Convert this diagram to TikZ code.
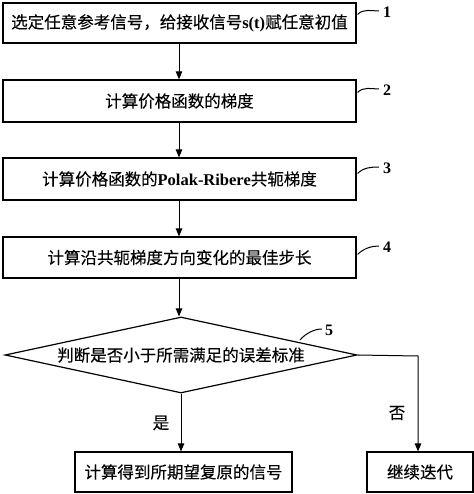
\documentclass[tikz,border=0pt]{standalone}
\usepackage{fontspec}
\setmainfont[BoldFont={Noto Sans CJK SC},BoldFeatures={FakeBold=0.2}]{Noto Sans CJK SC}
\newfontfamily\latf{Liberation Serif}
\usetikzlibrary{shapes.geometric,arrows.meta,calc}
\begin{document}
\begin{tikzpicture}[x=1bp,y=-1bp,
  txt/.style={font=\fontsize{16.5bp}{18bp}\selectfont\bfseries},
  box/.style={draw,line width=1.2bp,inner sep=0pt,txt},
  arr/.style={line width=1bp,-{Triangle[length=8bp,width=6.5bp]}},
  tag/.style={font=\latf\bfseries\fontsize{16bp}{18bp}\selectfont,inner sep=0pt},
  lead/.style={line width=1bp}]
\useasboundingbox (0,0) rectangle (474,494);
\node[box,minimum width=353bp,minimum height=40bp] (b1) at (179.5,23) {选定任意参考信号，给接收信号{\latf\bfseries s(t)}赋任意初值};
\node[box,minimum width=353bp,minimum height=42bp] (b2) at (179.5,101) {计算价格函数的梯度};
\node[box,minimum width=353bp,minimum height=42bp] (b3) at (179.5,179) {计算价格函数的{\latf\bfseries Polak-Ribere}共轭梯度};
\node[box,minimum width=353bp,minimum height=41bp] (b4) at (179.5,257.5) {计算沿共轭梯度方向变化的最佳步长};
\node[draw,line width=1.2bp,diamond,aspect=4.6,minimum width=352bp,minimum height=76bp,inner sep=0pt,txt] (d) at (181,355) {判断是否小于所需满足的误差标准};
\node[box,minimum width=217bp,minimum height=40bp] (yes) at (183.5,472) {计算得到所期望复原的信号};
\node[box,minimum width=106bp,minimum height=40bp] (no) at (420,472) {继续迭代};
\node[txt,inner sep=0pt] (ly) at (161,423) {是};
\node[txt,inner sep=0pt] (ln) at (397,413) {否};
\node[tag] (t1) at (387,12) {1};
\node[tag] (t2) at (387,90) {2};
\node[tag] (t3) at (387,168) {3};
\node[tag] (t4) at (387,247) {4};
\node[tag] (t5) at (329,330) {5};
\coordinate (nc) at (418,356);
\draw[arr] (b1.south -| 179,0) -- (b2.north -| 179,0);
\draw[arr] (b2.south -| 179,0) -- (b3.north -| 179,0);
\draw[arr] (b3.south -| 179,0) -- (b4.north -| 179,0);
\draw[arr] (b4.south -| 179,0) -- (d.north -| 179,0);
\draw[arr] (d.south) -- (d.south |- yes.north);
\draw[arr] (d.east) -- (nc) -- (nc |- no.north);
\foreach \b/\t/\o in {b1/t1/12,b2/t2/13,b3/t3/16,b4/t4/18}{
  \draw[lead] ($(\b.north east)+(1,\o)$) .. controls +(6,-6) and +(-7,0) .. ($(\t.west)+(-4,-1)$);
}
\draw[lead] (300,340) .. controls +(6,-7) and +(-7,0) .. ($(t5.west)+(-3,-1)$);
\end{tikzpicture}
\end{document}
